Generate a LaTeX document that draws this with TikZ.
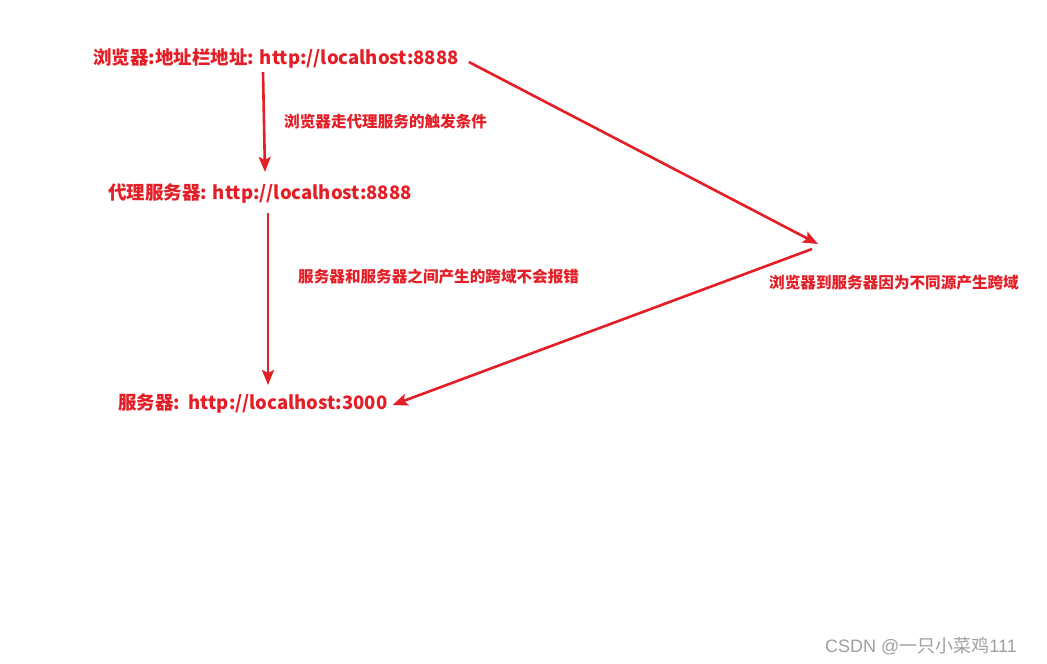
\documentclass[tikz,border=0pt]{standalone}
\usepackage{fontspec}
\usepackage{xcolor}
\usetikzlibrary{arrows.meta,positioning,calc}
\newfontfamily\cjk{Noto Sans CJK SC}
\newfontfamily\markfont{Liberation Sans}
\definecolor{proxyred}{RGB}{228,30,38}
\definecolor{markgray}{RGB}{160,160,160}
\tikzset{
  hostlabel/.style={text=proxyred,font=\cjk\bfseries\fontsize{18.5}{22}\selectfont,inner sep=0pt,anchor=west},
  notelabel/.style={text=proxyred,font=\cjk\bfseries\fontsize{15.6}{18}\selectfont,inner sep=0pt,anchor=west},
  redarrow/.style={proxyred,line width=2.6pt,-{Stealth[length=15pt,width=12pt,inset=3pt]}}
}

\begin{document}
\begin{tikzpicture}[x=1pt,y=-1pt]
  \useasboundingbox[fill=white] (0,0) rectangle (1047,664);

  % the three hosts
  \node[hostlabel] (browser) at (93,58) {浏览器:地址栏地址: http://localhost:8888};
  \node[hostlabel] (proxy) at (108,193) {代理服务器: http://localhost:8888};
  \node[hostlabel] (server) at (118,403) {服务器:\ \ http://localhost:3000};

  % notes beside the arrows
  \node[notelabel] (trigger) at (284,122) {浏览器走代理服务的触发条件};
  \node[notelabel] (nocors) at (298,277) {服务器和服务器之间产生的跨域不会报错};
  \node[notelabel] (cors) at (769,283) {浏览器到服务器因为不同源产生跨域};

  % vertical path through the proxy
  \draw[redarrow] ([shift={(170pt,-4pt)}]browser.south west) -- ([shift={(157pt,11pt)}]proxy.north west);
  \draw[redarrow] ([shift={(160pt,-10pt)}]proxy.south west) -- ([shift={(150pt,8pt)}]server.north west);

  % direct path, browser to server
  \coordinate (apex) at (818,244);
  \coordinate (bend) at (812,249);
  \draw[redarrow] ([shift={(10pt,-4pt)}]browser.east) -- (apex);
  \draw[redarrow] (bend) -- ([shift={(5pt,-2pt)}]server.east);

  \node[anchor=west,inner sep=0pt,text=markgray,font=\markfont\fontsize{18}{20}\selectfont] (mark) at (825,646) {CSDN @{\cjk 一只小菜鸡}111};
\end{tikzpicture}
\end{document}
